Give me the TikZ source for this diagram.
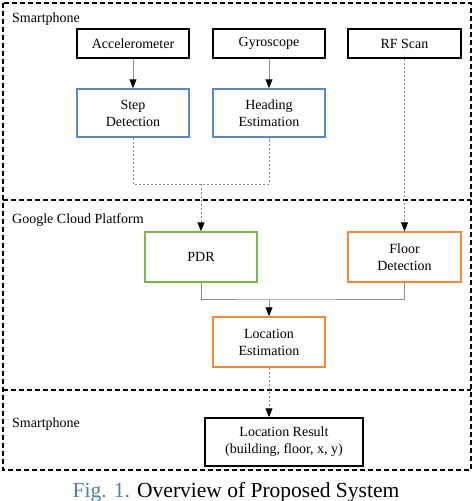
\documentclass[tikz,border=0pt]{standalone}
\usepackage{fontspec}
\setmainfont{Liberation Serif}
\usetikzlibrary{arrows.meta}
\definecolor{bblue}{HTML}{5B86C8}
\definecolor{bgreen}{HTML}{7AB648}
\definecolor{borange}{HTML}{F0883E}
\definecolor{capblue}{HTML}{4E7FA0}
\definecolor{lgray}{HTML}{8C8C8C}
\begin{document}
\begin{tikzpicture}[x=1pt,y=-1pt,
  box/.style={draw, line width=1.5pt, inner sep=0pt, align=center,
    font=\fontsize{14}{17}\selectfont, minimum width=112pt, minimum height=29pt},
  bluebox/.style={box, draw=bblue, minimum height=48pt},
  greenbox/.style={box, draw=bgreen, minimum height=50pt},
  orangebox/.style={box, draw=borange, minimum height=50pt},
  section/.style={draw, line width=1.6pt, dash pattern=on 5pt off 3pt},
  lbl/.style={inner sep=0pt, font=\fontsize{14}{17}\selectfont},
  tip/.style={-{Triangle[width=7pt,length=9pt,color=black]}},
  conn/.style={draw=lgray, line width=1pt},
  dconn/.style={draw=lgray, line width=1pt, dash pattern=on 2pt off 2pt},
]
\useasboundingbox (0,0) rectangle (474,501);
% sections
\draw[section] (3,3) rectangle (471,470);
\draw[section] (3,200) -- (471,200);
\draw[section] (3,390) -- (471,390);
\node[lbl, anchor=base west] (s1) at (12,22) {Smartphone};
\node[lbl, anchor=base west] (s2) at (12,223) {Google Cloud Platform};
\node[lbl, anchor=base west] (s3) at (12,427) {Smartphone};
% nodes
\node[box] (acc) at (133,43.5) {Accelerometer};
\node[box] (gyro) at (269,43.5) {Gyroscope};
\node[box, minimum width=113pt] (rf) at (404.5,43.5) {RF Scan};
\node[bluebox] (step) at (133,113) {Step\\Detection};
\node[bluebox] (head) at (269,113) {Heading\\Estimation};
\node[greenbox] (pdr) at (201,257) {PDR};
\node[orangebox, minimum width=113pt] (floor) at (404.5,257) {Floor\\Detection};
\node[orangebox] (le) at (269,342) {Location\\Estimation};
\node[box, minimum width=158pt, minimum height=48pt] (lr) at (284,442) {Location Result\\(building, floor, x, y)};
\coordinate (j1) at (201,184);
\coordinate (j2) at (269,299);
% connectors
\draw[conn, tip] (acc) -- (step);
\draw[conn, tip] (gyro) -- (head);
\draw[dconn, tip] (rf) -- (floor);
\draw[dconn] (step.south) |- (j1) -| (head.south);
\draw[dconn, tip] (j1) -- (pdr.north);
\draw[conn] (pdr.south) |- (j2) -| (floor.south);
\draw[conn, tip] (j2) -- (le.north);
\draw[dconn, tip] (le.south) -- (le.south |- lr.north);
% caption
\node[inner sep=0pt, anchor=base, font=\fontsize{21.5}{24}\selectfont] (cap) at (236,497)
  {\textcolor{capblue}{Fig. 1.} Overview of Proposed System};
\end{tikzpicture}
\end{document}
